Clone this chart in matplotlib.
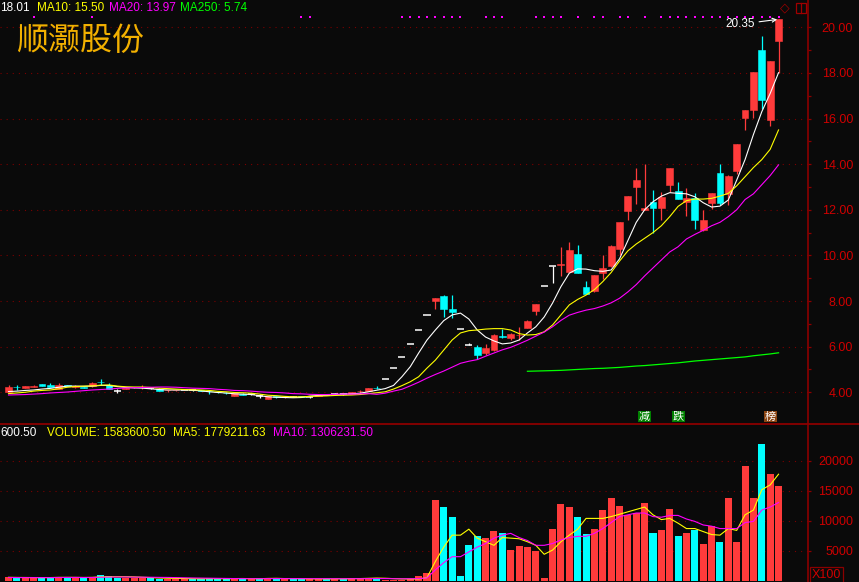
import numpy as np
import matplotlib
matplotlib.use("Agg")
import matplotlib.pyplot as plt
import matplotlib.transforms as mtransforms
from matplotlib.patches import Rectangle
from matplotlib.lines import Line2D

plt.rcParams['font.family'] = ['Liberation Sans', 'Noto Sans CJK SC', 'DejaVu Sans']

stock_name = '顺灏股份'

# daily candles, oldest first
opens = [4.01, 4.24, 4.19, 4.25, 4.36, 4.32, 4.15, 4.33, 4.24, 4.22,
         4.27, 4.46, 4.32, 4.06, 4.15, 4.21, 4.22, 4.18, 4.15, 4.08,
         4.08, 4.10, 4.09, 4.10, 4.06, 4.00, 3.98, 3.83, 3.94, 3.92,
         3.84, 3.70, 3.84, 3.80, 3.80, 3.82, 3.80, 3.84, 3.90, 3.93,
         3.92, 3.92, 4.05, 4.05, 4.20, 4.58, 5.06, 5.54, 6.10, 6.71,
         7.38, 8.00, 8.22, 7.65, 6.77, 6.09, 5.97, 5.71, 5.84, 6.47,
         6.38, 6.49, 6.82, 7.56, 8.66, 9.53, 9.58, 9.27, 10.05, 8.62,
         8.44, 9.22, 9.53, 10.27, 11.93, 12.98, 11.98, 12.33, 12.07, 13.08,
         12.82, 12.33, 12.50, 11.10, 12.28, 13.60, 12.70, 13.70, 16.02, 16.37,
         19.00, 15.93, 19.40]
highs = [4.30, 4.30, 4.29, 4.33, 4.37, 4.40, 4.41, 4.34, 4.30, 4.24,
         4.43, 4.58, 4.40, 4.14, 4.20, 4.24, 4.30, 4.20, 4.17, 4.12,
         4.11, 4.12, 4.11, 4.11, 4.12, 4.02, 4.03, 3.98, 3.95, 3.94,
         3.92, 3.84, 3.85, 3.84, 3.82, 3.83, 3.82, 3.94, 3.92, 3.95,
         3.94, 4.02, 4.10, 4.18, 4.27, 4.58, 5.06, 5.54, 6.10, 6.71,
         7.38, 8.12, 8.26, 8.26, 6.77, 6.15, 6.07, 6.11, 6.55, 6.77,
         6.58, 6.86, 7.15, 7.87, 8.66, 9.53, 10.36, 10.58, 10.45, 8.88,
         9.14, 10.00, 10.45, 11.45, 12.62, 13.83, 14.00, 12.87, 12.78, 13.83,
         13.20, 12.97, 12.73, 12.00, 12.75, 14.00, 13.52, 14.87, 16.37, 18.03,
         19.62, 18.52, 20.35]
lows = [4.00, 4.12, 4.18, 4.24, 4.26, 4.22, 4.14, 4.27, 4.20, 4.17,
        4.25, 4.32, 4.14, 3.98, 4.13, 4.18, 4.15, 4.16, 4.05, 4.01,
        4.07, 4.08, 4.07, 4.06, 3.93, 3.97, 3.91, 3.82, 3.89, 3.90,
        3.77, 3.69, 3.77, 3.75, 3.78, 3.79, 3.77, 3.83, 3.88, 3.90,
        3.90, 3.91, 3.93, 4.04, 4.14, 4.58, 5.06, 5.54, 6.10, 6.71,
        7.38, 7.65, 7.30, 7.26, 6.77, 6.07, 5.48, 5.62, 5.80, 6.38,
        6.29, 6.29, 6.80, 7.39, 8.66, 8.78, 9.09, 9.27, 9.22, 8.30,
        8.38, 8.95, 9.50, 10.00, 11.55, 12.25, 11.98, 11.00, 11.55, 12.78,
        12.46, 11.73, 11.15, 11.05, 12.05, 12.20, 12.20, 13.57, 15.50, 16.02,
        16.42, 15.67, 18.00]
closes = [4.23, 4.21, 4.27, 4.27, 4.28, 4.24, 4.32, 4.29, 4.26, 4.19,
          4.40, 4.44, 4.15, 4.06, 4.19, 4.23, 4.23, 4.18, 4.07, 4.10,
          4.10, 4.10, 4.09, 4.07, 4.04, 3.99, 3.96, 3.96, 3.90, 3.92,
          3.84, 3.83, 3.78, 3.83, 3.80, 3.80, 3.80, 3.92, 3.90, 3.93,
          3.92, 4.01, 4.07, 4.17, 4.19, 4.58, 5.06, 5.54, 6.10, 6.71,
          7.38, 8.12, 7.65, 7.52, 6.77, 6.09, 5.62, 5.93, 6.51, 6.44,
          6.55, 6.51, 7.13, 7.87, 8.66, 9.53, 9.62, 10.23, 9.22, 8.30,
          9.14, 9.44, 10.41, 11.45, 12.60, 13.30, 12.07, 12.07, 12.55, 13.83,
          12.46, 12.50, 11.55, 11.55, 12.73, 12.28, 13.50, 14.87, 16.37, 18.03,
          16.80, 18.52, 20.35]

ma5 = [4.03, 4.05, 4.08, 4.10, 4.14, 4.17, 4.22, 4.27, 4.27, 4.26,
       4.27, 4.30, 4.30, 4.25, 4.21, 4.19, 4.18, 4.15, 4.12, 4.10,
       4.10, 4.10, 4.09, 4.06, 4.02, 3.99, 3.97, 3.93, 3.92, 3.90,
       3.85, 3.80, 3.78, 3.77, 3.76, 3.77, 3.83, 3.86, 3.87, 3.90,
       3.92, 3.93, 3.96, 4.02, 4.09, 4.16, 4.30, 4.68, 5.12, 5.72,
       6.29, 6.73, 7.14, 7.39, 7.47, 7.21, 6.73, 6.42, 6.25, 6.12,
       6.16, 6.29, 6.60, 6.87, 7.30, 7.91, 8.63, 9.22, 9.41, 9.40,
       9.33, 9.30, 9.36, 9.85, 10.65, 11.45, 12.00, 12.35, 12.60, 12.75,
       12.72, 12.70, 12.57, 12.31, 12.12, 12.16, 12.43, 13.30, 14.20, 15.30,
       16.30, 17.10, 18.01]
ma10 = [3.94, 3.97, 4.00, 4.05, 4.08, 4.10, 4.15, 4.22, 4.25, 4.27,
        4.28, 4.31, 4.32, 4.27, 4.24, 4.23, 4.23, 4.21, 4.18, 4.16,
        4.14, 4.12, 4.11, 4.10, 4.08, 4.04, 4.02, 3.99, 3.98, 3.96,
        3.92, 3.87, 3.85, 3.82, 3.80, 3.80, 3.82, 3.83, 3.84, 3.86,
        3.87, 3.88, 3.90, 3.94, 3.98, 4.02, 4.14, 4.29, 4.46, 4.68,
        5.06, 5.41, 5.85, 6.29, 6.60, 6.70, 6.73, 6.77, 6.79, 6.79,
        6.73, 6.57, 6.51, 6.53, 6.65, 6.95, 7.39, 7.83, 8.07, 8.26,
        8.50, 8.85, 9.25, 9.75, 10.20, 10.50, 10.75, 11.00, 11.30, 11.70,
        12.15, 12.40, 12.47, 12.47, 12.50, 12.60, 12.72, 13.05, 13.45, 13.85,
        14.20, 14.65, 15.50]
ma20 = [3.88, 3.89, 3.90, 3.92, 3.94, 3.97, 3.99, 4.01, 4.04, 4.07,
        4.10, 4.12, 4.14, 4.17, 4.19, 4.20, 4.21, 4.22, 4.23, 4.23,
        4.22, 4.20, 4.18, 4.17, 4.16, 4.13, 4.11, 4.08, 4.07, 4.05,
        4.02, 4.00, 3.99, 3.97, 3.94, 3.93, 3.91, 3.90, 3.90, 3.91,
        3.92, 3.92, 3.93, 3.94, 3.91, 3.96, 4.05, 4.13, 4.28, 4.44,
        4.62, 4.78, 4.93, 5.10, 5.27, 5.36, 5.43, 5.58, 5.72, 5.86,
        5.97, 6.12, 6.28, 6.46, 6.64, 6.87, 7.15, 7.38, 7.50, 7.60,
        7.67, 7.78, 7.92, 8.12, 8.40, 8.72, 9.10, 9.45, 9.80, 10.15,
        10.38, 10.72, 10.92, 11.10, 11.30, 11.45, 11.70, 12.00, 12.45, 12.70,
        13.10, 13.50, 13.97]
# MA250 only exists for the last 31 sessions
ma250 = [np.nan] * 62 + [
    4.92, 4.93, 4.94, 4.95, 4.96, 4.98, 5.00, 5.02, 5.04, 5.05,
    5.07, 5.09, 5.12, 5.15, 5.17, 5.20, 5.23, 5.26, 5.29, 5.33,
    5.37, 5.40, 5.43, 5.46, 5.49, 5.52, 5.55, 5.60, 5.64, 5.68, 5.73]

# volume in lots of 100
volume = [650, 400, 500, 450, 550, 500, 600, 550, 500, 400,
          650, 1000, 700, 500, 450, 500, 450, 400, 350, 300,
          350, 300, 300, 250, 400, 300, 300, 450, 300, 250,
          300, 500, 350, 300, 250, 250, 300, 350, 300, 250,
          300, 450, 400, 500, 450, 150, 100, 120, 200, 800,
          1200, 13500, 12300, 10600, 800, 6000, 7500, 7100, 8300, 8000,
          5100, 5800, 5600, 4900, 400, 8600, 12800, 12300, 10600, 7800,
          8600, 11800, 13800, 12500, 11000, 11300, 13000, 8000, 8500, 12000,
          7500, 8000, 8500, 6100, 9100, 6500, 13800, 6500, 19200, 13800,
          22800, 17800, 15836]
vol_ma5 = [550, 530, 520, 510, 500, 510, 540, 540, 540, 520,
           540, 620, 650, 650, 650, 620, 560, 500, 440, 400,
           370, 340, 320, 310, 320, 320, 310, 340, 350, 320,
           320, 360, 380, 340, 340, 330, 290, 290, 290, 290,
           300, 330, 340, 380, 420, 390, 330, 280, 280, 270,
           500, 3200, 5600, 7600, 7600, 8600, 7100, 6500, 5900, 7200,
           7100, 7000, 6500, 5900, 4400, 5100, 6500, 7600, 8600, 10400,
           10400, 10400, 10700, 11100, 11500, 11900, 12300, 11000, 10200, 10400,
           9600, 8700, 8700, 8200, 7700, 7600, 8700, 8400, 11000, 11800,
           15200, 16000, 17792]
vol_ma10 = [520, 510, 500, 500, 500, 500, 520, 530, 530, 520,
            520, 560, 590, 600, 600, 580, 570, 560, 540, 530,
            500, 470, 440, 420, 400, 380, 360, 340, 330, 320,
            320, 330, 340, 330, 330, 330, 320, 320, 320, 310,
            310, 320, 320, 330, 340, 340, 320, 300, 310, 330,
            450, 1800, 3000, 4000, 4000, 4800, 5600, 6200, 7100, 7600,
            7900, 7200, 6700, 5900, 5900, 6200, 6800, 7200, 7400, 7400,
            7900, 8700, 9700, 10700, 11000, 11300, 11300, 10700, 10600, 10900,
            10900, 10300, 9900, 9300, 9100, 8700, 8700, 8700, 9700, 9900,
            11800, 12300, 13062]

# sessions flagged with a dot in the top strip
signal_days = [3, 10, 35, 36, 47, 48, 49, 50, 51, 52, 53, 54, 57, 58, 59,
               63, 64, 65, 66, 68, 70, 71, 73, 74, 76] + list(range(78, 93))
badge_days = [76, 80, 91]
badge_text = ['减', '跌', '榜']

header_price = [('18.01', 'white'), ('MA10: 15.50', '#FFFF00'),
                ('MA20: 13.97', '#FF00FF'), ('MA250: 5.74', '#00FF00')]
header_vol = [('600.50', 'white'), ('VOLUME: 1583600.50', '#FFFF00'),
              ('MA5: 1779211.63', '#FFFF00'), ('MA10: 1306231.50', '#FF00FF')]

W, H = 859, 582
BG = '#0A0A0A'
RED = '#FF3B3B'
CYAN = '#00FFFF'
AXC = '#8B0000'
LBL = '#D00000'
GRID = '#7A0000'
STEP = 8.37      # pixels per candle
X0 = 8.5         # pixel centre of first candle
PLOT_R = 808     # axis line position
SPLIT = 424      # price / volume separator


def fx(x):
    return x / W


def fy(y):
    return 1 - y / H


fig = plt.figure(figsize=(W / 100, H / 100), dpi=100, facecolor=BG)
ax = fig.add_axes([0, fy(SPLIT), fx(PLOT_R), SPLIT / H], facecolor=BG)
axv = fig.add_axes([0, 0, fx(PLOT_R), (H - SPLIT) / H], facecolor=BG, sharex=ax)

idx = np.arange(len(closes))
o = np.array(opens)
c = np.array(closes)
hi = np.array(highs)
lo = np.array(lows)
up = c > o
down = c < o
flat = c == o
col = np.where(up, RED, np.where(down, CYAN, 'white'))

# candles
ax.vlines(idx, lo, hi, colors=col, lw=0.9, zorder=2)
body = ~flat
ax.bar(idx[body], np.abs(c - o)[body], bottom=np.minimum(o, c)[body], width=0.82,
       color=col[body], edgecolor=col[body], lw=0.4, zorder=2)
ax.hlines(c[flat], idx[flat] - 0.42, idx[flat] + 0.42, colors='white', lw=1.1, zorder=2)

ax.plot(idx, ma5, color='white', lw=0.8, zorder=3)
ax.plot(idx, ma10, color='#FFFF00', lw=0.8, zorder=3)
ax.plot(idx, ma20, color='#FF00FF', lw=0.8, zorder=3)
ax.plot(idx, ma250, color='#00FF00', lw=0.9, zorder=3)

strip = mtransforms.blended_transform_factory(ax.transData, ax.transAxes)
ax.scatter(signal_days, [1 - 17 / SPLIT] * len(signal_days), marker='s', s=2.5,
           color='#FF00FF', lw=0, transform=strip, zorder=4)

badge_fc = {'减': '#008000', '跌': '#008000', '榜': '#8B4513'}
for d, t in zip(badge_days, badge_text):
    ax.text(d, 1 - 416.5 / SPLIT, t, transform=strip, ha='center', va='center',
            fontsize=8, color='white', family=['Noto Sans CJK SC', 'DejaVu Sans'],
            bbox=dict(boxstyle='square,pad=0.08', fc=badge_fc[t], ec='none'), zorder=5)

ax.annotate('%.2f' % hi[-1], xy=(idx[-1], hi[-1]), xytext=(-17, -3.5),
            textcoords='offset points', ha='right', va='center', color='white', fontsize=8.5,
            arrowprops=dict(arrowstyle='->', color='white', lw=0.8, shrinkA=1, shrinkB=1,
                            mutation_scale=7), zorder=5)

ax.set_xlim(-X0 / STEP, (PLOT_R - X0) / STEP)
ax.set_ylim(20 - (SPLIT - 27.3) / 22.81, 20 + 27.3 / 22.81)
ax.yaxis.tick_right()
ax.set_yticks(np.arange(4, 21, 2))
ax.set_yticklabels(['%.2f' % v for v in np.arange(4, 21, 2)])
ax.set_yticks(np.arange(5, 20, 2), minor=True)
ax.yaxis.grid(True, which='major', color=GRID, linestyle=(0, (1, 4.5)), lw=0.8)

# volume panel
prev = np.r_[o[0], c[:-1]]
vol_up = up | (flat & (c >= prev))
vcol = np.where(vol_up, RED, CYAN)
axv.bar(idx, volume, width=0.84, color=vcol, lw=0, zorder=2)
axv.plot(idx, vol_ma5, color='#FFFF00', lw=0.8, zorder=3)
axv.plot(idx, vol_ma10, color='#FF00FF', lw=0.8, zorder=3)
axv.set_ylim(-234, 26187)
axv.yaxis.tick_right()
axv.set_yticks([5000, 10000, 15000, 20000])
axv.set_yticklabels(['5000', '10000', '15000', '20000'])
axv.yaxis.grid(True, color=GRID, linestyle=(0, (1, 4.5)), lw=0.8)

for a in (ax, axv):
    a.set_xticks([])
    a.tick_params(axis='x', length=0)
    a.tick_params(axis='y', which='both', direction='out', length=2.5, color=AXC,
                  labelcolor=LBL, labelsize=9, pad=29.9, width=0.9)
    for lab in a.get_yticklabels():
        lab.set_horizontalalignment('right')
    for s in ('left', 'top', 'bottom'):
        a.spines[s].set_visible(False)
    a.spines['right'].set_color(AXC)
    a.spines['right'].set_linewidth(1.2)
    a.set_axisbelow(True)

fig.add_artist(Line2D([0, 1], [fy(SPLIT)] * 2, transform=fig.transFigure, color=AXC, lw=1.3))

# header lines
for (t, cl), x in zip(header_price, [0, 37, 109, 180]):
    fig.text(fx(x), fy(8), t, color=cl, fontsize=8.5, ha='left', va='center')
for (t, cl), x in zip(header_vol, [0, 47, 173, 273]):
    fig.text(fx(x), fy(433), t, color=cl, fontsize=8.5, ha='left', va='center')

fig.text(fx(16), fy(41), stock_name, color='#F2B000', fontsize=23, ha='left', va='center',
         family=['Noto Sans CJK SC', 'DejaVu Sans'])

# corner widgets
fig.text(fx(785), fy(8), '◇', color='#A00000', fontsize=9, ha='center', va='center',
         family=['DejaVu Sans'])
fig.add_artist(Rectangle((fx(796), fy(13)), fx(10), 10 / H, transform=fig.transFigure,
                         fill=False, ec='#A00000', lw=0.9))
fig.add_artist(Line2D([fx(801)] * 2, [fy(13), fy(3)], transform=fig.transFigure,
                      color='#A00000', lw=0.9))
fig.text(fx(812), fy(575), 'X100', color=LBL, fontsize=9, ha='left', va='center',
         bbox=dict(boxstyle='square,pad=0.15', fc='none', ec=AXC, lw=0.9))

fig.savefig('out.png', dpi=100, facecolor=BG)
